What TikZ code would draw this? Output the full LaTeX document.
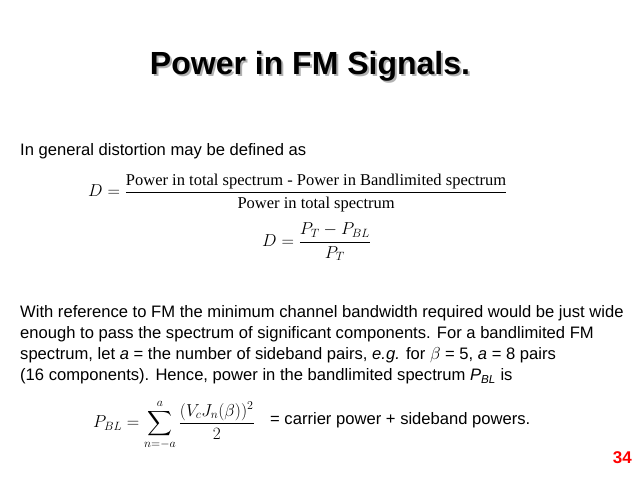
\documentclass[tikz,border=0pt]{standalone}
\usepackage{amsmath}
\usepackage{fontspec}
\setmainfont{Liberation Sans}
\newfontfamily\tms{Liberation Serif}
\newcommand{\tx}[1]{\text{\tms #1}}
\begin{document}
\begin{tikzpicture}[x=1pt,y=-1pt,
  body/.style={anchor=base west,inner sep=0pt,font=\fontsize{16.6}{20}\selectfont},
  eq/.style={inner sep=0pt}]
\useasboundingbox (0,0) rectangle (638,478);
\node[eq,text=gray!60] (tsh) at (312,68) {\fontsize{32}{36}\selectfont\bfseries Power in FM Signals.};
\node[eq] (title) at (310,66) {\fontsize{32}{36}\selectfont\bfseries Power in FM Signals.};
\node[body] (l0) at (20,156) {In general distortion may be defined as};
\node[eq,anchor=west] (eq1) at (88,193) {\fontsize{16.5}{19}\selectfont$D=\dfrac{\tx{Power in total spectrum - Power in Bandlimited spectrum}}{\tx{Power in total spectrum}}$};
\node[eq,anchor=west] (eq2) at (262,242) {\fontsize{18}{21}\selectfont$D=\dfrac{P_T-P_{BL}}{P_T}$};
\node[body] (l1) at (20,318) {With reference to FM the minimum channel bandwidth required would be just wide};
\node[body] (l2) at (20,339) {enough to pass the spectrum of significant components. For a bandlimited FM};
\node[body] (l3) at (20,360) {spectrum, let \textit{a} = the number of sideband pairs, \textit{e.g.} for $\beta$ = 5, \textit{a} = 8 pairs};
\node[body] (l4) at (20,381) {(16 components). Hence, power in the bandlimited spectrum \textit{P}\textsubscript{\textit{BL}} is};
\node[eq,anchor=west] (eq3) at (93,425) {\fontsize{17}{20}\selectfont$P_{BL}=\displaystyle\sum_{n=-a}^{a}\frac{(V_cJ_n(\beta))^2}{2}$};
\node[body] (l5) at (270,425) {= carrier power + sideband powers.};
\node[eq,anchor=east,text=red,font=\fontsize{17}{20}\selectfont\bfseries] (pg) at (632,458) {34};
\end{tikzpicture}
\end{document}
